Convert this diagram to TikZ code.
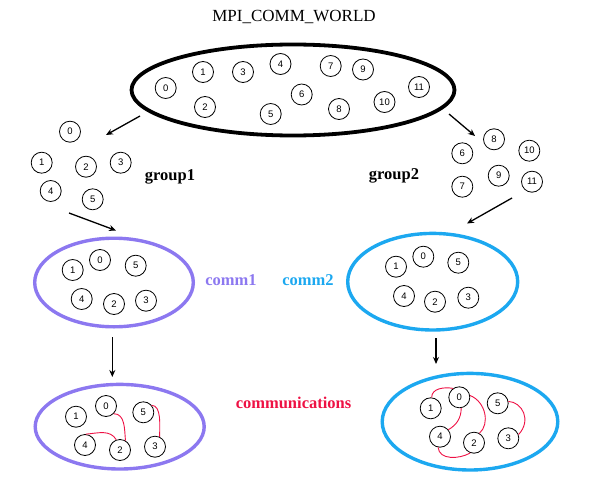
\documentclass[tikz,border=0pt]{standalone}
\usepackage{fontspec}
\setmainfont{Liberation Serif}
\newfontfamily\numfont{Liberation Sans}
\usetikzlibrary{shapes.geometric,arrows.meta}
\definecolor{cpurple}{HTML}{8C78F0}
\definecolor{cblue}{HTML}{1CA8F0}
\definecolor{cred}{HTML}{EE1144}
\begin{document}
\begin{tikzpicture}[x=1pt,y=-1pt,
  proc/.style={circle,draw,line width=0.8pt,minimum size=21pt,inner sep=0pt,font=\numfont\fontsize{9.5}{10}\selectfont},
  grp/.style={ellipse,inner sep=0pt},
  lbl/.style={font=\bfseries\fontsize{16.5}{18}\selectfont},
  arr/.style={line width=1.3pt,-{Stealth[length=7pt,width=6pt]}},
  link/.style={cred,line width=0.9pt}]
\path[use as bounding box] (0,0) rectangle (599,476);

\node[font=\fontsize{17}{19}\selectfont] (title) at (294,17) {MPI\_COMM\_WORLD};

% world
\node[grp,draw,line width=3.8pt,minimum width=323pt,minimum height=91pt] (world) at (293,90) {};
\node[proc] (w0) at (165.7,88) {0};
\node[proc] (w1) at (203,72) {1};
\node[proc] (w2) at (205,107) {2};
\node[proc] (w3) at (243,72) {3};
\node[proc] (w4) at (280.5,64) {4};
\node[proc] (w5) at (270.7,114) {5};
\node[proc] (w6) at (301.7,94.5) {6};
\node[proc] (w7) at (330.7,66) {7};
\node[proc] (w8) at (339,109) {8};
\node[proc] (w9) at (363,69.5) {9};
\node[proc] (w10) at (384.5,102) {10};
\node[proc] (w11) at (419,87) {11};

% group1
\node[proc] (g0) at (70,131.7) {0};
\node[proc] (g1) at (41.7,162.7) {1};
\node[proc] (g2) at (86,166.7) {2};
\node[proc] (g3) at (120.7,162.7) {3};
\node[proc] (g4) at (50.7,191) {4};
\node[proc] (g5) at (92.7,199.3) {5};
\node[lbl] (group1) at (170,177) {group1};

% group2
\node[proc] (h8) at (494,139.3) {8};
\node[proc] (h6) at (462.3,153.3) {6};
\node[proc] (h10) at (529.3,150.7) {10};
\node[proc] (h9) at (498.7,175.7) {9};
\node[proc] (h7) at (462.3,186.7) {7};
\node[proc] (h11) at (532,181.7) {11};
\node[lbl] (group2) at (394,176) {group2};

% comm1
\node[grp,draw=cpurple,line width=3.4pt,minimum width=158.6pt,minimum height=88.6pt] (c1) at (114,282.5) {};
\node[proc] (a1) at (72.7,270) {1};
\node[proc] (a0) at (100,260) {0};
\node[proc] (a5) at (135.7,265.7) {5};
\node[proc] (a4) at (81.7,299) {4};
\node[proc] (a2) at (114,304) {2};
\node[proc] (a3) at (146,300.7) {3};
\node[lbl,text=cpurple] (comm1) at (231,280) {comm1};

% comm2
\node[grp,draw=cblue,line width=3.4pt,minimum width=170pt,minimum height=96.6pt] (c2) at (432.7,281.7) {};
\node[proc] (e1) at (396,266.7) {1};
\node[proc] (e0) at (423.3,256.7) {0};
\node[proc] (e5) at (458.3,262.7) {5};
\node[proc] (e4) at (404,296) {4};
\node[proc] (e2) at (435,301.7) {2};
\node[proc] (e3) at (468.3,297.7) {3};
\node[lbl,text=cblue] (comm2) at (308,280) {comm2};

% communications
\node[lbl,text=cred] (comms) at (293.5,403) {communications};

% bottom comm1
\node[grp,draw=cpurple,line width=3.4pt,minimum width=169pt,minimum height=84.6pt] (b1) at (119.7,426.7) {};
\node[proc] (b11) at (76,416.7) {1};
\node[proc] (b10) at (106,406) {0};
\node[proc] (b15) at (143.3,412.3) {5};
\node[proc] (b14) at (85,445) {4};
\node[proc] (b12) at (120,450) {2};
\node[proc] (b13) at (155,446.7) {3};
\draw[link] (b10.-45) to[out=0,in=95] (b12.60);
\draw[link] (b14.85) to[out=5,in=120] (b12.110);
\draw[link] (b15.40) to[out=0,in=90,looseness=0.8] (b13.65);

% bottom comm2
\node[grp,draw=cblue,line width=3.4pt,minimum width=175.6pt,minimum height=96.6pt] (b2) at (470,421.7) {};
\node[proc] (d1) at (430.7,408.3) {1};
\node[proc] (d0) at (459.3,397.3) {0};
\node[proc] (d5) at (497.7,403.3) {5};
\node[proc] (d4) at (440,436.7) {4};
\node[proc] (d2) at (474,442.7) {2};
\node[proc] (d3) at (508.3,438.3) {3};
\draw[link] (d1.85) to[out=90,in=170] (d0.125);
\draw[link] (d0.-80) to[out=-90,in=30] (d4.40);
\draw[link] (d0.10) .. controls (486,402) and (490,424) .. (d2.60);
\draw[link] (d4.-100) to[out=-85,in=-150] (d2.-110);
\draw[link] (d5.10) .. controls (522,402) and (532,420) .. (d3.20);

% arrows
\coordinate (p1) at (140,116); \coordinate (q1) at (106,135);
\coordinate (p2) at (449,114); \coordinate (q2) at (475,136);
\coordinate (p3) at (69,213);  \coordinate (q3) at (116,230.5);
\coordinate (p4) at (512,198); \coordinate (q4) at (467,223.5);
\coordinate (p5) at (112.3,337); \coordinate (q5) at (112.3,377);
\coordinate (p6) at (436,338); \coordinate (q6) at (436,364);
\draw[arr] (p1) -- (q1);
\draw[arr] (p2) -- (q2);
\draw[arr] (p3) -- (q3);
\draw[arr] (p4) -- (q4);
\draw[arr] (p5) -- (q5);
\draw[arr] (p6) -- (q6);
\end{tikzpicture}
\end{document}
